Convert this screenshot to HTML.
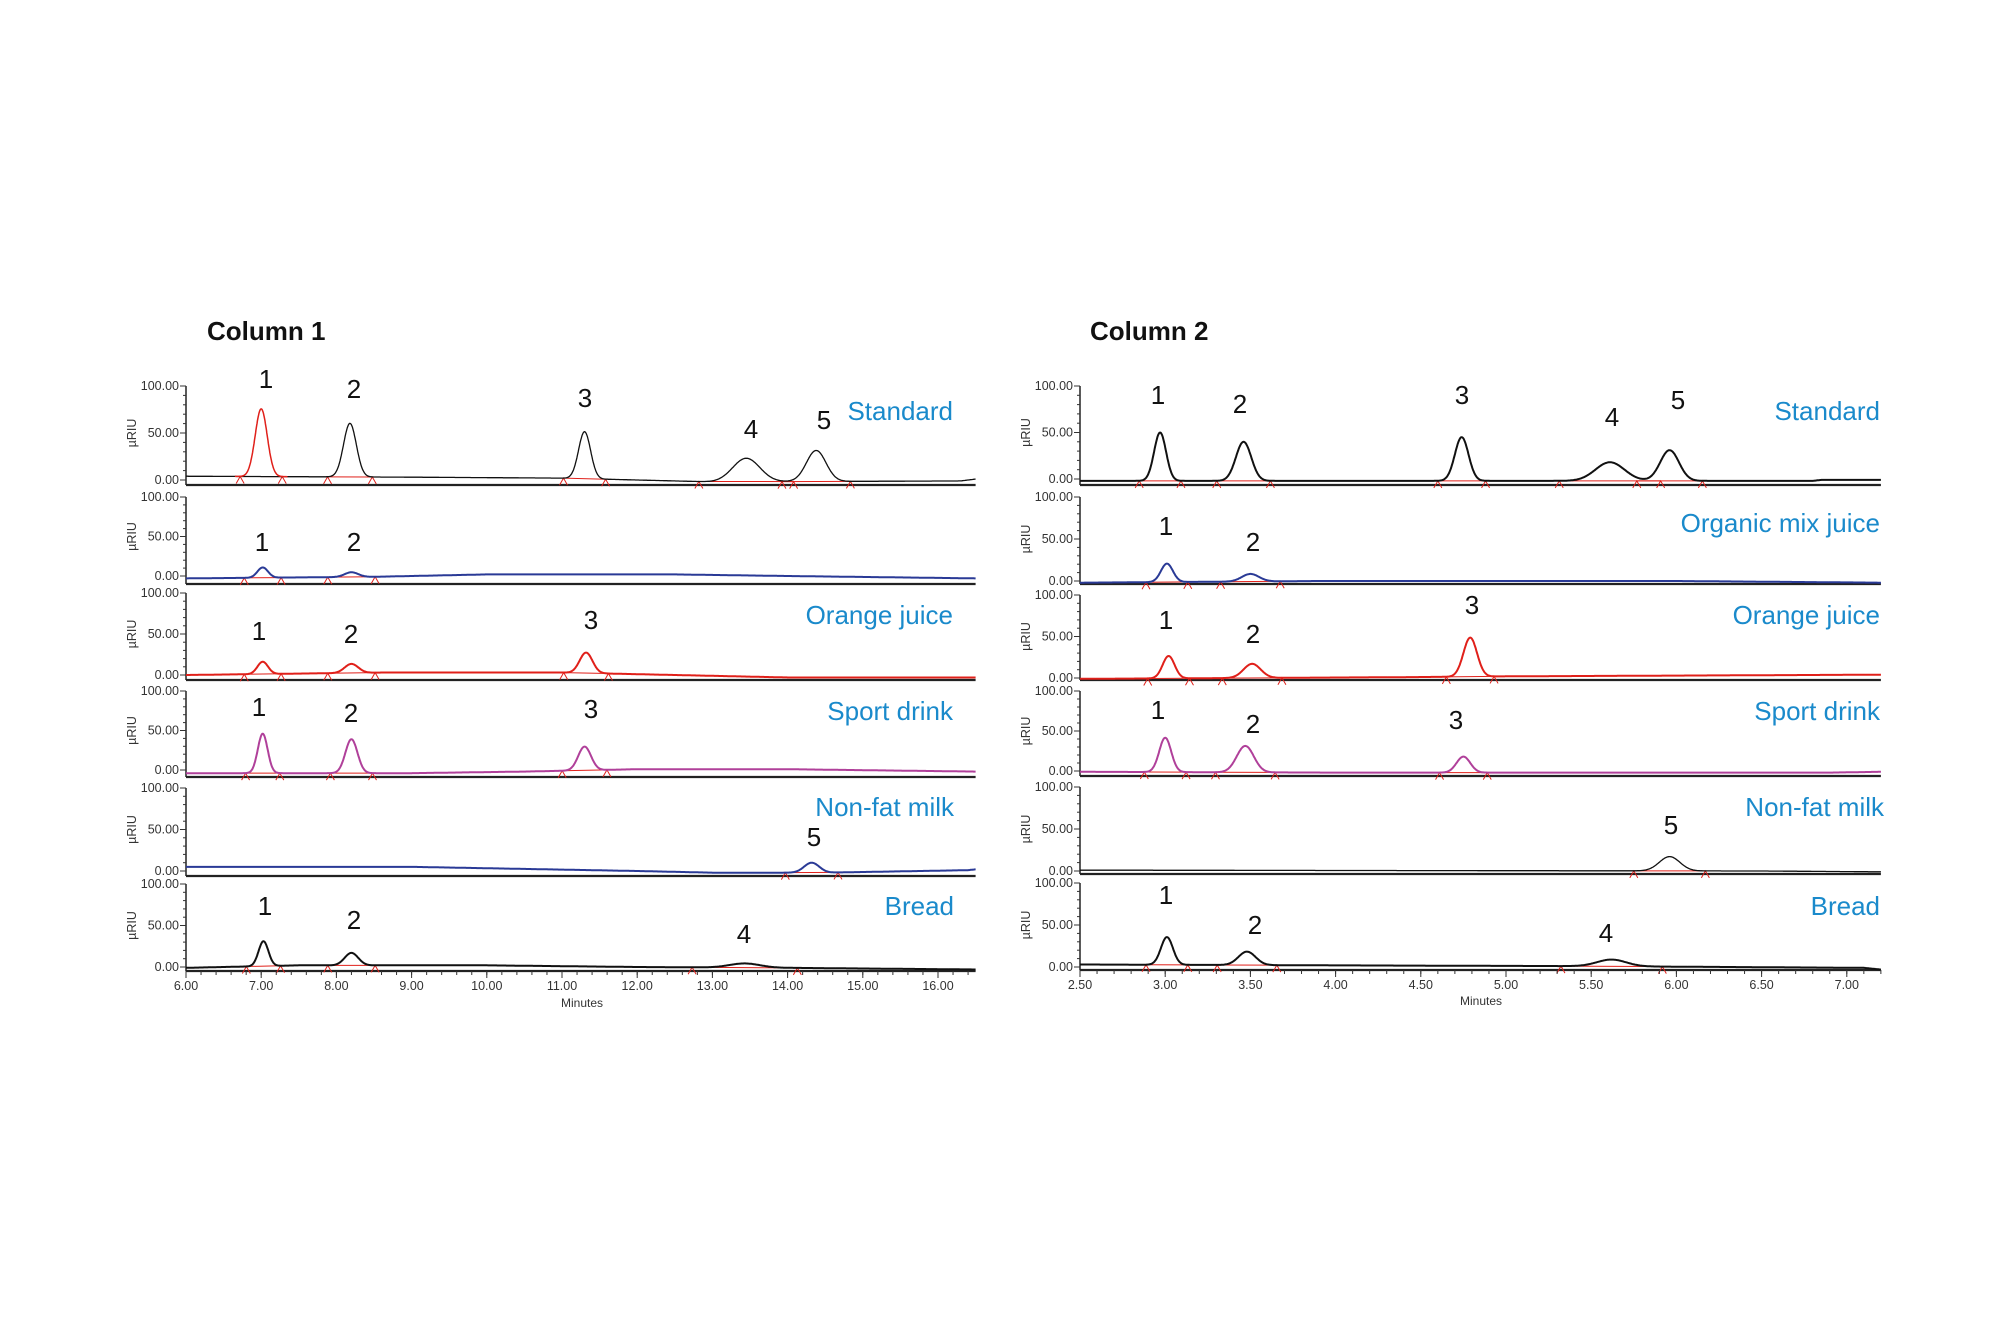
<!DOCTYPE html>
<html><head><meta charset="utf-8"><style>
html,body{margin:0;padding:0;background:#fff;width:2000px;height:1333px;overflow:hidden}
svg{display:block}
.tl{font-family:"Liberation Sans Narrow","Liberation Sans",sans-serif;font-size:12.5px;fill:#333}
.num{font-family:"Liberation Sans",sans-serif;font-size:26px;fill:#111;text-anchor:middle;dominant-baseline:central}
.lab{font-family:"Liberation Sans",sans-serif;font-size:26px;fill:#1a8acb;text-anchor:end;dominant-baseline:central}
.tt{font-family:"Liberation Sans",sans-serif;font-size:26px;font-weight:bold;fill:#111}
.ax{font-family:"Liberation Sans Narrow","Liberation Sans",sans-serif;font-size:12px;fill:#333}
</style></head><body>
<svg id="s" width="2000" height="1333" viewBox="0 0 2000 1333" xmlns="http://www.w3.org/2000/svg">
<text class="tt" x="207" y="340">Column 1</text>
<text class="tt" x="1090" y="340">Column 2</text>
<g id="g"></g>
<text class="num" x="266" y="379">1</text><text class="num" x="354" y="389">2</text><text class="num" x="585" y="398">3</text><text class="num" x="751" y="429">4</text><text class="num" x="824" y="420">5</text>
<text class="lab" x="953" y="411">Standard</text>
<text class="num" x="262" y="542">1</text><text class="num" x="354" y="542">2</text>
<text class="num" x="259" y="631">1</text><text class="num" x="351" y="634">2</text><text class="num" x="591" y="620">3</text>
<text class="lab" x="953" y="615">Orange juice</text>
<text class="num" x="259" y="707">1</text><text class="num" x="351" y="713">2</text><text class="num" x="591" y="709">3</text>
<text class="lab" x="953" y="711">Sport drink</text>
<text class="num" x="814" y="837">5</text>
<text class="lab" x="954" y="807">Non-fat milk</text>
<text class="num" x="265" y="906">1</text><text class="num" x="354" y="920">2</text><text class="num" x="744" y="934">4</text>
<text class="lab" x="954" y="906">Bread</text>
<text class="num" x="1158" y="395">1</text><text class="num" x="1240" y="404">2</text><text class="num" x="1462" y="395">3</text><text class="num" x="1612" y="417">4</text><text class="num" x="1678" y="400">5</text>
<text class="lab" x="1880" y="411">Standard</text>
<text class="num" x="1166" y="526">1</text><text class="num" x="1253" y="542">2</text>
<text class="lab" x="1880" y="523">Organic mix juice</text>
<text class="num" x="1166" y="620">1</text><text class="num" x="1253" y="634">2</text><text class="num" x="1472" y="605">3</text>
<text class="lab" x="1880" y="615">Orange juice</text>
<text class="num" x="1158" y="710">1</text><text class="num" x="1253" y="724">2</text><text class="num" x="1456" y="720">3</text>
<text class="lab" x="1880" y="711">Sport drink</text>
<text class="num" x="1671" y="825">5</text>
<text class="lab" x="1884" y="807">Non-fat milk</text>
<text class="num" x="1166" y="895">1</text><text class="num" x="1255" y="925">2</text><text class="num" x="1606" y="933">4</text>
<text class="lab" x="1880" y="906">Bread</text>
<text class="ax" x="582" y="1007" text-anchor="middle">Minutes</text>
<text class="ax" x="1481" y="1005" text-anchor="middle">Minutes</text>
</svg>
<script>
var g=document.getElementById('g'),out='';
var K='#111',R='#e0201a',B='#2a3a96',M='#b0409a';
var C=[
 {x0:186,ppm:75.2,t0:6,t1:16.5,yl:['100.00','50.00','0.00'],xl:['6.00','7.00','8.00','9.00','10.00','11.00','12.00','13.00','14.00','15.00','16.00'],xs:6,xd:1,minor:0.2,
  P:[
   {a:386,z:480,b:485,c:K,w:1.3,base:[[6,4],[9,3],[11,2],[12,0],[13,-2],[16.3,-1],[16.5,1]],pk:[[8.18,57,.085],[11.3,50,.08],[13.45,25,.18],[14.38,33,.13]],red:[[7.0,72,.08]]},
   {a:497,z:576,b:584,c:B,w:2,base:[[6,-3],[8.5,-1],[10,2],[12.5,2],[14,0],[16.5,-3]],pk:[[7.02,13,.07],[8.2,6,.09]]},
   {a:593,z:675,b:680,c:R,w:2,base:[[6,0],[8.6,3],[11,3],[12,1],[13,-1],[14,-3],[16.5,-3]],pk:[[7.02,15,.07],[8.2,11,.09],[11.32,25,.085]]},
   {a:691,z:770,b:777,c:M,w:2,base:[[6,-4],[9,-4],[10.5,-2],[12,1],[14,1],[16.5,-2]],pk:[[7.02,50,.065],[8.2,43,.08],[11.3,30,.085]]},
   {a:788,z:871,b:876,c:B,w:2,base:[[6,5],[9,5],[12,0],[13,-2],[14.5,-2],[16.4,1],[16.5,2]],pk:[[14.32,12,.1]]},
   {a:884,z:967,b:971,c:K,w:2,base:[[6,-1],[7.5,2],[10,2],[12,0],[14,-1],[16.5,-3]],pk:[[7.03,30,.065],[8.2,15,.09],[13.43,5,.2]]}
  ]},
 {x0:1080,ppm:170.4,t0:2.5,t1:7.2,yl:['100.00','50.00','0.00'],xl:['2.50','3.00','3.50','4.00','4.50','5.00','5.50','6.00','6.50','7.00'],xs:2.5,xd:0.5,minor:0.1,
  P:[
   {a:386,z:479,b:485,c:K,w:2,base:[[2.5,-2],[6.8,-2],[6.85,-1],[7.2,-1]],pk:[[2.97,52,.035],[3.46,42,.045],[4.74,47,.04],[5.61,20,.085],[5.96,33,.055]]},
   {a:497,z:581,b:584,c:B,w:2,base:[[2.5,-2],[3.9,0],[6,0],[7.2,-2]],pk:[[3.01,22,.035],[3.5,9,.05]]},
   {a:595,z:678,b:680,c:R,w:2,base:[[2.5,-1],[4.4,1],[5,2],[7.2,4]],pk:[[3.02,27,.035],[3.51,17,.05],[4.79,47,.04]]},
   {a:691,z:771,b:776,c:M,w:2,base:[[2.5,-1],[4,-2],[6.9,-2],[7.2,-1]],pk:[[3.0,43,.035],[3.47,33,.05],[4.75,20,.04]]},
   {a:787,z:871,b:874,c:K,w:1.3,base:[[2.5,1],[6.5,0],[7.2,-1]],pk:[[5.96,17,.06]]},
   {a:883,z:967,b:970,c:K,w:2,base:[[2.5,3],[3.9,2],[5.5,1],[7.1,-1],[7.2,-3]],pk:[[3.01,33,.035],[3.48,16,.05],[5.62,8,.085]]}
  ]}
];
function lin(b,t){for(var i=0;i<b.length-1;i++){if(t<=b[i+1][0]){var f=(t-b[i][0])/(b[i+1][0]-b[i][0]);return b[i][1]+f*(b[i+1][1]-b[i][1]);}}return b[b.length-1][1];}
function gs(p,t){return p[1]*Math.exp(-Math.pow((t-p[0])/p[2],2)/2);}
C.forEach(function(c){
 var X=function(t){return c.x0+(t-c.t0)*c.ppm;}, xe=X(c.t1);
 c.P.forEach(function(p){
  var Y=function(v){return p.z-v/100*(p.z-p.a);};
  out+='<line x1="'+c.x0+'" y1="'+p.a+'" x2="'+c.x0+'" y2="'+p.b+'" stroke="#222" stroke-width="1.5"/>';
  out+='<line x1="'+c.x0+'" y1="'+p.b+'" x2="'+xe+'" y2="'+p.b+'" stroke="#222" stroke-width="2.2"/>';
  for(var v=0;v<=100;v+=10){var yy=Y(v),L=(v%50==0)?6:3;out+='<line x1="'+(c.x0-L)+'" y1="'+yy+'" x2="'+c.x0+'" y2="'+yy+'" stroke="#333" stroke-width="1"/>';}
  [100,50,0].forEach(function(v,i){out+='<text class="tl" x="'+(c.x0-7)+'" y="'+(Y(v)+4)+'" text-anchor="end">'+c.yl[i]+'</text>';});
  var my=(p.a+p.z)/2, mx=c.x0-50;
  out+='<text class="tl" transform="translate('+mx+','+my+') rotate(-90)" text-anchor="middle">µRIU</text>';
  var d='';
  for(var t=c.t0;t<=c.t1+1e-9;t+=(c.t1-c.t0)/1200){
   var v=lin(p.base,t);p.pk.forEach(function(q){v+=gs(q,t);});
   d+=(d?'L':'M')+X(t).toFixed(1)+' '+Y(v).toFixed(1);
  }
  var allp=p.pk.concat(p.red||[]);
  allp.forEach(function(q){var t1=q[0]-3.5*q[2],t2=q[0]+3.5*q[2];
   out+='<line x1="'+X(t1)+'" y1="'+Y(lin(p.base,t1))+'" x2="'+X(t2)+'" y2="'+Y(lin(p.base,t2))+'" stroke="'+R+'" stroke-width="1"/>';
   [t1,t2].forEach(function(tt){var xx=X(tt),yy=Y(lin(p.base,tt));out+='<path d="M'+(xx-4)+' '+(yy+7)+'L'+xx+' '+(yy)+'L'+(xx+4)+' '+(yy+7)+'" fill="none" stroke="'+R+'" stroke-width="1"/>';});
  });
  out+='<path d="'+d+'" fill="none" stroke="'+p.c+'" stroke-width="'+p.w+'" stroke-linejoin="round"/>';
  if(p.red){var dd='';for(var t=p.red[0][0]-.35;t<=p.red[0][0]+.35;t+=.005){var v=lin(p.base,t)+gs(p.red[0],t);dd+=(dd?'L':'M')+X(t).toFixed(1)+' '+Y(v).toFixed(1);}out+='<path d="'+dd+'" fill="none" stroke="'+R+'" stroke-width="1.5"/>';}
 });
 var pb=c.P[5].b;
 for(var t=c.t0;t<=c.t1+1e-9;t+=c.minor){var xx=X(t);out+='<line x1="'+xx+'" y1="'+pb+'" x2="'+xx+'" y2="'+(pb+4)+'" stroke="#333" stroke-width="1"/>';}
 c.xl.forEach(function(s,i){var xx=X(c.xs+i*c.xd);out+='<line x1="'+xx+'" y1="'+pb+'" x2="'+xx+'" y2="'+(pb+7)+'" stroke="#333" stroke-width="1"/><text class="tl" x="'+xx+'" y="'+(pb+19)+'" text-anchor="middle">'+s+'</text>';});
});
g.innerHTML=out;
</script>
</body></html>
